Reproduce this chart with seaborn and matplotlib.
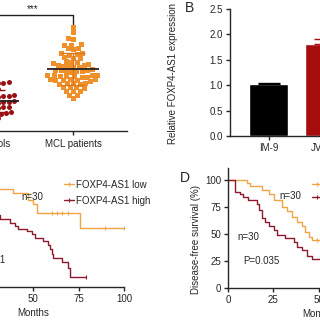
import numpy as np
import pandas as pd
import matplotlib
matplotlib.use("Agg")
import matplotlib.pyplot as plt
from matplotlib.lines import Line2D
import seaborn as sns

# ---- data ----
groups = ["Controls", "MCL patients"]
controls_vals = [3.00, 2.98, 2.96, 2.94, 2.92, 2.90,
                 2.62, 2.58, 2.54,
                 2.20, 2.18, 2.16, 2.14, 2.12, 2.10, 2.08, 2.06,
                 1.86, 1.84, 1.82, 1.80, 1.78, 1.76, 1.74, 1.72, 1.70,
                 1.50, 1.48, 1.46, 1.44, 1.42, 1.40, 1.38, 1.36,
                 1.15, 1.12, 1.09, 1.06, 1.03, 1.00,
                 0.80, 0.77, 0.74]
mcl_vals = [6.36, 6.05, 5.70, 5.62, 5.32, 5.28, 5.25, 5.08, 5.04, 5.00, 4.78, 4.74, 4.70,
            4.66, 4.52, 4.48, 4.44, 4.25, 4.22, 4.19, 4.16, 4.12, 4.04, 4.01, 3.98, 3.95,
            3.92, 3.90, 3.76, 3.74, 3.72, 3.70, 3.68, 3.66, 3.64, 3.62, 3.45, 3.43, 3.41,
            3.39, 3.37, 3.35, 3.33, 3.31, 3.29, 3.19, 3.17, 3.15, 3.13, 3.11, 3.09, 3.07,
            2.95, 2.93, 2.91, 2.89, 2.87, 2.70, 2.68, 2.66, 2.64, 2.46, 2.44, 2.42, 2.22,
            2.20, 2.01]

cell_lines = ["IM-9", "JVM-2"]
cell_expr = [1.02, 1.82]
cell_err = [0.03, 0.08]

# overall survival (panel C)
c_low_t = [0, 8, 15, 24, 39.2, 47.4, 50.2, 52.0, 75.8, 100]
c_low_s = [100, 97, 94, 91, 88, 81, 77, 69, 55, 55]
c_low_cens = [60.3, 63.0, 65.8, 69.4, 89.6, 100]
c_high_t = [0, 3, 6, 9, 12, 15, 18, 21, 24, 27, 29, 31.9, 37.4, 40.1, 41.9, 46.5, 49.3,
            51.1, 55.7, 58.4, 59.3, 60.2, 61.2, 65.7, 69.4, 70.3, 79.1]
c_high_s = [100, 97, 93, 90, 87, 83, 80, 77, 73, 70, 67, 63, 60, 57, 54, 52, 49, 46, 43,
            39, 35, 31, 27, 23, 18, 9, 9]
c_high_cens = [79.1]

# disease-free survival (panel D)
d_low_t = [0, 10.4, 12.2, 18.7, 22.4, 25.5, 29.8, 32.6, 35.4, 38.1, 40.9, 42.8, 44.6,
           46.5, 62, 95]
d_low_s = [100, 97, 94, 91, 87, 81.5, 75, 71, 66, 61, 57, 52, 47.5, 44, 40, 40]
d_low_cens = [49.0, 95]
d_high_t = [0, 3.9, 6.7, 8.5, 11.3, 15.9, 16.9, 18.7, 20.6, 22.4, 25.2, 27, 31.7, 36.3,
            38, 40.9, 43.7, 46.5, 55, 70]
d_high_s = [100, 89, 87, 84, 81, 78, 72, 65, 61, 57, 54, 49, 46, 43, 38, 35, 30, 27, 22, 22]
d_high_cens = [70]

ORANGE = "#f0902a"
DKRED = "#9a0f12"
KM_ORANGE = "#f2a344"
KM_RED = "#8c1a2c"
BAR_RED = "#a80d0d"

sns.set_style("ticks")
plt.rcParams["font.family"] = ["Liberation Sans", "DejaVu Sans"]
plt.rcParams["axes.linewidth"] = 1.0
plt.rcParams["xtick.major.width"] = 1.0
plt.rcParams["ytick.major.width"] = 1.0
plt.rcParams["xtick.major.size"] = 3
plt.rcParams["ytick.major.size"] = 3
FS = 7

fig = plt.figure(figsize=(3.2, 3.2), dpi=100)


def box(left, top, right, bottom):
    # pixel box -> figure fraction rect
    return [left / 320, 1 - bottom / 320, (right - left) / 320, (bottom - top) / 320]


# ---- panel A ----
axA = fig.add_axes(box(-55, 0, 127, 131))
dfA = pd.DataFrame({
    "group": ["Controls"] * len(controls_vals) + ["MCL patients"] * len(mcl_vals),
    "value": controls_vals + mcl_vals,
})
sns.swarmplot(data=dfA[dfA.group == "Controls"], x="group", y="value", order=groups,
              color=DKRED, marker="o", size=3.6, ax=axA)
sns.swarmplot(data=dfA[dfA.group == "MCL patients"], x="group", y="value", order=groups,
              color=ORANGE, marker="s", size=3.6, ax=axA)
for i, (g, col) in enumerate(zip(groups, [DKRED, "#d9781c"])):
    v = dfA.loc[dfA.group == g, "value"]
    m, sd = v.mean(), v.std()
    axA.vlines(i, m - sd, m + sd, color=col, lw=1.0, zorder=4)
    axA.hlines([m - sd, m + sd], i - 0.15, i + 0.15, color=col, lw=1.0, zorder=4)
    axA.hlines(m, i - 0.33, i + 0.33, color="#222222", lw=1.3, zorder=5)
top = max(mcl_vals)
axA.plot([0, 0, 1, 1], [top, top + 0.72, top + 0.72, top], color="#222222", lw=1.0)
axA.text(0.5, top + 0.78, "***", ha="center", va="bottom", fontsize=FS)
axA.set_ylim(0, 8)
axA.set_xlim(-0.6, 1.675)
axA.set_xlabel("")
axA.set_ylabel("")
axA.tick_params(labelsize=FS, length=3, pad=3)
sns.despine(ax=axA)

# ---- panel B ----
axB = fig.add_axes(box(230, 9, 363, 136))
sns.barplot(x=cell_lines, y=cell_expr, hue=cell_lines, palette=["#000000", BAR_RED],
            width=0.7, ax=axB, legend=False, saturation=1)
for i, (v, e, col) in enumerate(zip(cell_expr, cell_err, ["#000000", BAR_RED])):
    axB.errorbar(i, v, yerr=[[0], [e]], fmt="none", ecolor=col, elinewidth=1.0,
                 capsize=8, capthick=1.0)
axB.set_ylim(0, 2.5)
axB.set_xlim(-0.6875, 1.6875)
axB.set_yticks([0, 0.5, 1.0, 1.5, 2.0, 2.5])
axB.set_yticklabels(["0.0", "0.5", "1.0", "1.5", "2.0", "2.5"])
axB.set_ylabel("Relative FOXP4-AS1 expression", fontsize=FS)
axB.yaxis.set_label_coords(-0.39, 0.49)
axB.tick_params(labelsize=FS, length=3, pad=2)
sns.despine(ax=axB)
fig.text(189 / 320, 1 - 8 / 320, "B", fontsize=10, ha="center", va="center")


# ---- KM panels ----
def km(ax, t, s, cens, color):
    sns.lineplot(x=t, y=s, drawstyle="steps-post", color=color, lw=1.0,
                 estimator=None, sort=False, ax=ax)
    tt = np.array(t)
    cs = [s[np.searchsorted(tt, c, side="right") - 1] for c in cens]
    ax.plot(cens, cs, ls="none", marker="|", ms=3.5, mew=0.8, color=color)


axC = fig.add_axes(box(-58, 168, 124, 287))
km(axC, c_low_t, c_low_s, c_low_cens, KM_ORANGE)
km(axC, c_high_t, c_high_s, c_high_cens, KM_RED)
axD = fig.add_axes(box(228, 168, 409, 288))
km(axD, d_low_t, d_low_s, d_low_cens, KM_ORANGE)
km(axD, d_high_t, d_high_s, d_high_cens, KM_RED)

for ax in (axC, axD):
    ax.set_xlim(0, 100)
    ax.set_ylim(0, 111)
    ax.set_xticks([0, 25, 50, 75, 100])
    ax.set_yticks([0, 25, 50, 75, 100])
    ax.set_xlabel("Months", fontsize=FS, labelpad=3)
    ax.tick_params(labelsize=FS, length=3, pad=2)
    sns.despine(ax=ax)

axD.set_ylabel("Disease-free survival (%)", fontsize=FS)
axD.yaxis.set_label_coords(-0.15, 0.4)
fig.text(185 / 320, 1 - 178 / 320, "D", fontsize=10, ha="center", va="center")

handles = [Line2D([], [], color=KM_ORANGE, lw=1.0, marker="|", ms=3.5, mew=0.8),
           Line2D([], [], color=KM_RED, lw=1.0, marker="|", ms=3.5, mew=0.8)]
labels = ["FOXP4-AS1 low", "FOXP4-AS1 high"]
axC.legend(handles, labels, loc="upper left", bbox_to_anchor=(60 / 320, 1 - 176 / 320),
           bbox_transform=fig.transFigure, frameon=False, fontsize=FS,
           handlelength=1.0, handletextpad=0.25, labelspacing=0.6, borderaxespad=0)
axD.legend(handles, labels, loc="upper left", bbox_to_anchor=(308 / 320, 1 - 176 / 320),
           bbox_transform=fig.transFigure, frameon=False, fontsize=FS,
           handlelength=1.0, handletextpad=0.25, labelspacing=0.25, borderaxespad=0)

fig.text(32 / 320, 1 - 197 / 320, "n=30", fontsize=FS, ha="center", va="center")
fig.text(6 / 320, 1 - 260 / 320, "P=0.001", fontsize=FS, ha="right", va="center")
fig.text(290 / 320, 1 - 196 / 320, "n=30", fontsize=FS, ha="center", va="center")
fig.text(248 / 320, 1 - 237 / 320, "n=30", fontsize=FS, ha="center", va="center")
fig.text(261 / 320, 1 - 261 / 320, "P=0.035", fontsize=FS, ha="center", va="center")

fig.savefig("out.png", dpi=100)
